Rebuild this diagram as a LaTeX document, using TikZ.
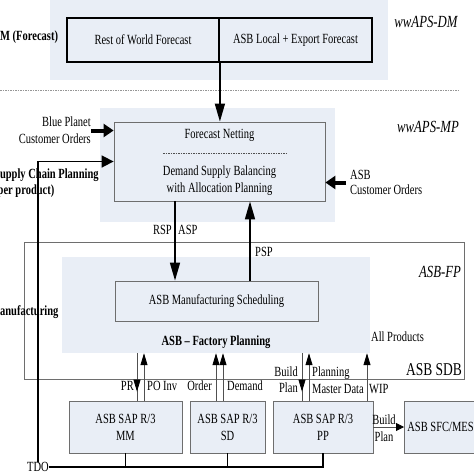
\documentclass[tikz,border=0pt]{standalone}
\usepackage{fontspec}
\setmainfont{Liberation Serif}[FakeStretch=0.75]
\usetikzlibrary{arrows.meta,decorations.markings}
\definecolor{regionblue}{RGB}{233,238,246}
\definecolor{boxgray}{RGB}{110,110,110}
\definecolor{linegray}{RGB}{80,80,80}
\definecolor{sepgray}{RGB}{150,150,150}
\tikzset{
  txt/.style={font=\fontsize{14}{16}\selectfont, inner sep=0pt},
  btxt/.style={font=\bfseries\fontsize{14}{16}\selectfont, inner sep=0pt},
  ititle/.style={font=\itshape\fontsize{17}{19}\selectfont, inner sep=0pt},
  region/.style={fill=regionblue, draw=none, inner sep=0pt},
  graybox/.style={draw=boxgray, fill=regionblue, line width=0.8pt, inner sep=0pt, font=\fontsize{14}{17}\selectfont, align=center},
  blackbox/.style={draw=black, line width=1.8pt, fill=regionblue, inner sep=0pt, font=\fontsize{14}{16}\selectfont},
  big/.style={line width=1.6pt, -{Triangle[length=18pt,width=10pt]}},
  fat/.style={line width=4pt, -{Triangle[length=10pt,width=13pt]}},
  tdoline/.style={line width=1.6pt},
  tdoarrow/.style={line width=1.6pt, -{Triangle[length=12pt,width=12pt]}},
  thinline/.style={draw=linegray, line width=0.8pt},
  small/.style={thinline, -{Triangle[length=12pt,width=7pt,color=black]}},
  midhead/.style={postaction={decorate}, decoration={markings, mark=at position #1 with {\arrow{Triangle[length=12pt,width=7pt,color=black]}}}},
  sepline/.style={draw=sepgray, line width=0.6pt, dash pattern=on 1.5pt off 1pt},
}
\begin{document}
\begin{tikzpicture}[x=1pt,y=-1pt]
\useasboundingbox (0,0) rectangle (474,474);
% ---------- wwAPS-DM ----------
\node[region, minimum width=338, minimum height=80] (dmreg) at (219,40) {};
\node[blackbox, minimum width=152, minimum height=44] (rowf) at (143,40) {Rest of World Forecast};
\node[blackbox, minimum width=153, minimum height=44] (asbf) at (295.5,40) {ASB Local + Export Forecast};
\node[btxt, anchor=west] (dmlab) at (0,37) {M (Forecast)};
\node[ititle] (dmtitle) at (426,22) {wwAPS-DM};
% separator
\coordinate (sepL) at (0,90);
\coordinate (sepR) at (458,90);
\draw[sepline] (sepL) -- (sepR);
% ---------- wwAPS-MP ----------
\node[region, minimum width=235, minimum height=114] (mpreg) at (217.5,165) {};
\node[graybox, minimum width=211, minimum height=79] (fn) at (219.5,161.5) {};
\node[txt] (fnt) at (219.5,135) {Forecast Netting};
\coordinate (fndL) at (163,153);
\coordinate (fndR) at (287,153);
\draw[sepline, draw=linegray] (fndL) -- (fndR);
\node[txt, align=center, font=\fontsize{14}{17}\selectfont] (dsb) at (219.5,180.5) {Demand Supply Balancing\\with Allocation Planning};
\node[ititle] (mptitle) at (428,127) {wwAPS-MP};
\node[txt, align=right, anchor=east, font=\fontsize{14}{17}\selectfont] (bp) at (91,130.5) {Blue Planet\\Customer Orders};
\node[btxt, align=left, anchor=west, font=\bfseries\fontsize{14}{16}\selectfont] (scp) at (-6,183) {Supply Chain Planning\\(per product)};
\node[txt, align=left, anchor=west, inner xsep=4pt, font=\fontsize{14}{15}\selectfont] (aco) at (346,182.5) {ASB\\Customer Orders};
% ---------- ASB SDB / FP ----------
\node[draw=boxgray, line width=0.8pt, minimum width=440, minimum height=137, inner sep=0pt] (sdb) at (244,310.5) {};
\node[region, minimum width=308, minimum height=96] (fpreg) at (216,305) {};
\node[graybox, minimum width=203, minimum height=40] (mfg) at (216.5,301) {ASB Manufacturing Scheduling};
\node[btxt] (fplab) at (216,342) {ASB -- Factory Planning};
\node[ititle] (fptitle) at (440,272) {ASB-FP};
\node[txt, anchor=west] (allp) at (371,337) {All Products};
\node[txt, font=\fontsize{18}{20}\selectfont] (sdblab) at (434,370) {ASB SDB};
\node[btxt, anchor=west] (mfglab) at (-10,312) {Manufacturing};
% ---------- SAP boxes ----------
\node[graybox, minimum width=113, minimum height=52] (mm) at (125.5,427) {ASB SAP R/3\\MM};
\node[graybox, minimum width=75, minimum height=52] (sd) at (227.5,427) {ASB SAP R/3\\SD};
\node[graybox, minimum width=100, minimum height=52] (pp) at (323,427) {ASB SAP R/3\\PP};
\node[graybox, anchor=west, minimum height=52, inner xsep=3pt] (sfc) at (404,427) {ASB SFC/MES};
\node[txt] (tdo) at (38,467) {TDO};
% ---------- connectors top ----------
\draw[line width=1pt] (rowf.north east) -- (rowf.south east);
\draw[big] (rowf.south east) -- (rowf.south east |- fn.north);
\draw[fat] (bp.east) -- (bp.east -| fn.west);
\draw[fat] (aco.west) -- (aco.west -| fn.east);
\draw[tdoarrow] (tdo.north) |- (fn.west);
\coordinate (rspx) at (175,0);
\coordinate (pspx) at (250,0);
\draw[big] (fn.south -| rspx) -- (mfg.north -| rspx);
\draw[big] (mfg.north -| pspx) -- (fn.south -| pspx);
\node[txt, anchor=east] (rsp) at (172,230) {RSP};
\node[txt, anchor=west] (asp) at (178,230) {ASP};
\node[txt, anchor=west] (psp) at (255,252) {PSP};
% ---------- connectors bottom ----------
\coordinate (prx) at (137,0);
\coordinate (pox) at (144,0);
\coordinate (ordx) at (216,0);
\coordinate (demx) at (223,0);
\coordinate (bpx) at (302,0);
\coordinate (pmx) at (309,0);
\coordinate (wipx) at (367,0);
\draw[thinline, midhead=0.81] (fpreg.south -| prx) -- (mm.north -| prx);
\draw[small] (mm.north -| pox) -- (fpreg.south -| pox);
\draw[small] (sd.north -| ordx) -- (fpreg.south -| ordx);
\draw[small] (sd.north -| demx) -- (fpreg.south -| demx);
\draw[thinline, midhead=0.81] (fpreg.south -| bpx) -- (pp.north -| bpx);
\draw[small] (pp.north -| pmx) -- (fpreg.south -| pmx);
\draw[small] (pp.north -| wipx) -- (fpreg.south -| wipx);
\draw[thinline, -{Triangle[length=8pt,width=8pt,color=black]}] (pp.east) -- (sfc.west);
\node[txt, anchor=east] (prl) at (134,386) {PR};
\node[txt, anchor=west] (pol) at (147,386) {PO Inv};
\node[txt, anchor=east] (ordl) at (212,386) {Order};
\node[txt, anchor=west] (deml) at (227,386) {Demand};
\node[txt, anchor=east, align=right, font=\fontsize{14}{16}\selectfont] (bpl) at (298,380) {Build\\Plan};
\node[txt, anchor=west, align=left, font=\fontsize{14}{17}\selectfont] (pml) at (312,380.5) {Planning\\Master Data};
\node[txt, anchor=west] (wipl) at (369,389) {WIP};
\node[txt, align=center, font=\fontsize{14}{17}\selectfont] (bpl2) at (384,428.5) {Build\\Plan};
% ---------- TDO lines ----------
\draw[tdoline] (tdo.east) -- (tdo.east -| pp.south) -- (pp.south);
\draw[tdoline] (mm.south) -- (mm.south |- tdo.east);
\draw[tdoline] (sd.south) -- (sd.south |- tdo.east);
\end{tikzpicture}
\end{document}
